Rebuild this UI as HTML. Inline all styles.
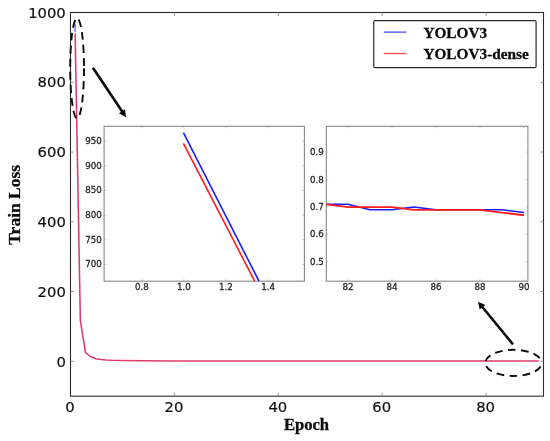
<!DOCTYPE html>
<html lang="en">
<head>
<meta charset="utf-8">
<title>Train Loss vs Epoch</title>
<style>
html,body{margin:0;padding:0;background:#fff;}
body{width:550px;height:441px;overflow:hidden;}
svg{display:block;}
.tk{font-family:"DejaVu Sans","Liberation Sans",sans-serif;font-size:14.8px;fill:#111;stroke:#111;stroke-width:0.2px;}
.stk{font-family:"DejaVu Sans","Liberation Sans",sans-serif;font-size:8.7px;fill:#2a2a2a;stroke:#2a2a2a;stroke-width:0.3px;}
.lbl{font-family:"Liberation Serif",serif;font-weight:bold;fill:#0c0c0c;stroke:#0c0c0c;stroke-width:0.3px;}
</style>
</head>
<body>
<svg width="550" height="441" viewBox="0 0 550 441">
<rect width="550" height="441" fill="#fff"/>

<!-- main axes -->
<rect x="70.5" y="12.5" width="473.0" height="383.7" fill="none" stroke="#2b2b2b" stroke-width="1.1"/>
<g stroke="#777" stroke-width="0.8">
<path d="M70.5 82.26h3.2M70.5 152.03h3.2M70.5 221.79h3.2M70.5 291.55h3.2M70.5 361.32h3.2"/>
<path d="M543.5 82.26h-3.2M543.5 152.03h-3.2M543.5 221.79h-3.2M543.5 291.55h-3.2M543.5 361.32h-3.2"/>
<path d="M174.4 396.2v-3.4M278.3 396.2v-3.4M382.2 396.2v-3.4M486.1 396.2v-3.4"/>
<path d="M174.4 12.5v3.4M278.3 12.5v3.4M382.2 12.5v3.4M486.1 12.5v3.4"/>
</g>
<g class="tk" text-anchor="end">
<text x="65.8" y="17.7">1000</text>
<text x="65.8" y="87.46">800</text>
<text x="65.8" y="157.23">600</text>
<text x="65.8" y="226.99">400</text>
<text x="65.8" y="296.75">200</text>
<text x="65.8" y="366.52">0</text>
</g>
<g class="tk" text-anchor="middle">
<text x="70" y="411.5">0</text>
<text x="173.9" y="411.5">20</text>
<text x="277.8" y="411.5">40</text>
<text x="381.7" y="411.5">60</text>
<text x="485.6" y="411.5">80</text>
</g>
<!-- main curves -->
<line x1="75.09" y1="23.86" x2="75.14" y2="32.23" stroke="#6a6aff" stroke-width="1.4"/>
<polyline fill="none" stroke="#df3b68" stroke-width="1.55" stroke-linejoin="round" points="75.14,33.38 80.34,320.46 85.54,352.55 90.73,356.73 95.92,358.65 101.12,359.52 106.32,360.01 111.51,360.29 121.9,360.57 142.68,360.81 173.85,360.92 277.75,360.99 538.8,361.02"/>

<!-- axis labels -->
<text class="lbl" font-size="16.6" x="306.5" y="430.1" text-anchor="middle">Epoch</text>
<text class="lbl" font-size="17.5" text-anchor="middle" transform="translate(20.0,204.8) rotate(-90)">Train Loss</text>

<!-- legend -->
<rect x="373.8" y="20.7" width="162.3" height="46.9" rx="1.2" fill="#fff" stroke="#2b2b2b" stroke-width="1.2"/>
<line x1="383.8" y1="32.1" x2="406.4" y2="32.1" stroke="#4a4aff" stroke-width="1.3"/>
<line x1="383.8" y1="53.5" x2="406.4" y2="53.5" stroke="#ff4a4a" stroke-width="1.3"/>
<text class="lbl" font-size="15.3" x="423.4" y="37.5">YOLOV3</text>
<text class="lbl" font-size="15.3" x="423.4" y="58.7">YOLOV3-dense</text>

<!-- inset 1 -->
<rect x="104.1" y="126.3" width="200.3" height="154.9" fill="#fff" stroke="#868686" stroke-width="1.1"/>
<g stroke="#aaa" stroke-width="0.7">
<path d="M104.1 141.3h2M104.1 165.92h2M104.1 190.54h2M104.1 215.16h2M104.1 239.78h2M104.1 264.4h2"/>
<path d="M304.4 141.3h-2M304.4 165.92h-2M304.4 190.54h-2M304.4 215.16h-2M304.4 239.78h-2M304.4 264.4h-2"/>
<path d="M141.8 281.2v-2M183.9 281.2v-2M226 281.2v-2M268.1 281.2v-2"/>
<path d="M141.8 126.3v2M183.9 126.3v2M226 126.3v2M268.1 126.3v2"/>
</g>
<g class="stk" text-anchor="end">
<text x="101.8" y="144.15">950</text>
<text x="101.8" y="168.77">900</text>
<text x="101.8" y="193.39">850</text>
<text x="101.8" y="218.01">800</text>
<text x="101.8" y="242.63">750</text>
<text x="101.8" y="267.25">700</text>
</g>
<g class="stk" text-anchor="middle">
<text x="141.8" y="290.4">0.8</text>
<text x="183.9" y="290.4">1.0</text>
<text x="226" y="290.4">1.2</text>
<text x="268.1" y="290.4">1.4</text>
</g>
<line x1="183.4" y1="132.6" x2="259" y2="281.2" stroke="#1c1cff" stroke-width="1.6"/>
<line x1="183.4" y1="143.4" x2="254.7" y2="281.2" stroke="#ff1c1c" stroke-width="1.6"/>
<!-- inset 2 -->
<rect x="326.3" y="126.3" width="201.6" height="154.9" fill="#fff" stroke="#868686" stroke-width="1.1"/>
<g stroke="#aaa" stroke-width="0.7">
<path d="M326.3 152.1h2M326.3 179.45h2M326.3 206.8h2M326.3 234.15h2M326.3 261.5h2"/>
<path d="M527.9 152.1h-2M527.9 179.45h-2M527.9 206.8h-2M527.9 234.15h-2M527.9 261.5h-2"/>
<path d="M348 281.2v-2M392 281.2v-2M436 281.2v-2M480 281.2v-2M524 281.2v-2"/>
<path d="M348 126.3v2M392 126.3v2M436 126.3v2M480 126.3v2M524 126.3v2"/>
</g>
<g class="stk" text-anchor="end">
<text x="323.8" y="155.15">0.9</text>
<text x="323.8" y="182.5">0.8</text>
<text x="323.8" y="209.85">0.7</text>
<text x="323.8" y="237.2">0.6</text>
<text x="323.8" y="264.55">0.5</text>
</g>
<g class="stk" text-anchor="middle">
<text x="348" y="290.4">82</text>
<text x="392" y="290.4">84</text>
<text x="436" y="290.4">86</text>
<text x="480" y="290.4">88</text>
<text x="524" y="290.4">90</text>
</g>
<polyline fill="none" stroke="#1c1cff" stroke-width="1.6" stroke-linejoin="round" points="326.3,204.31 348,204.31 370,209.79 392,209.79 414,207.05 436,209.79 458,209.79 480,209.79 502,209.79 524,212.52"/>
<polyline fill="none" stroke="#ff1c1c" stroke-width="1.8" stroke-linejoin="round" points="326.3,204.31 348,207.05 370,207.05 392,207.05 414,209.79 436,209.79 458,209.79 480,209.79 502,212.52 524,215.25"/>

<!-- dashed ellipses -->
<ellipse cx="77.1" cy="68.2" rx="6.9" ry="50" fill="none" stroke="#0c0c0c" stroke-width="1.9" stroke-dasharray="8 5" stroke-dashoffset="0"/>
<ellipse cx="513.5" cy="362.9" rx="28.2" ry="13.1" fill="none" stroke="#0c0c0c" stroke-width="1.9" stroke-dasharray="7.6 5.4" stroke-dashoffset="9.2"/>

<!-- arrows -->
<line x1="92.9" y1="67.7" x2="122.55" y2="112.05" stroke="#0c0c0c" stroke-width="2.6"/><polygon points="126,117.2 118.92,113.27 125.07,109.16" fill="#0c0c0c"/>
<line x1="513" y1="344.4" x2="481.93" y2="306.5" stroke="#0c0c0c" stroke-width="2.6"/><polygon points="478,301.7 485.43,304.92 479.7,309.61" fill="#0c0c0c"/>
</svg>
</body>
</html>
